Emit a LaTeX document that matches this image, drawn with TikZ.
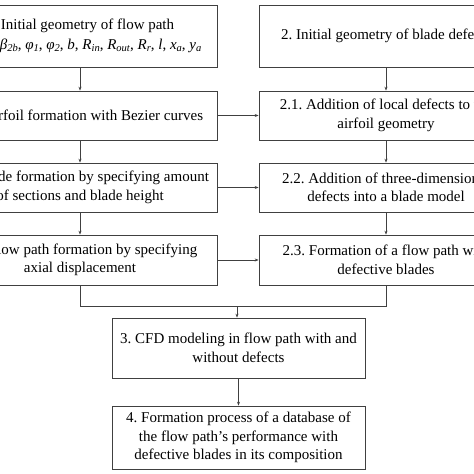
\documentclass[tikz,border=0pt]{standalone}
\usepackage{fontspec}
\setmainfont{Liberation Serif}
\usetikzlibrary{arrows.meta}

\newcommand{\pvar}[2]{\textit{#1}\raisebox{-2.5pt}{\fontsize{10.5}{10.5}\selectfont\textit{#2}}}

\begin{document}
\frenchspacing
\begin{tikzpicture}[x=1pt,y=-1pt,
    block/.style={draw=black!75, line width=0.7pt, align=center, inner xsep=4pt,
      font=\fontsize{15}{18.5}\selectfont},
    leftblock/.style={block, minimum width=274pt},
    rightblock/.style={block, minimum width=254pt},
    link/.style={draw=black!75, line width=0.7pt},
    arrowlink/.style={link, -{Stealth[length=4pt,width=3pt]}}]
  \useasboundingbox (0,0) rectangle (474,474);

  % flow path branch
  \node[leftblock, minimum height=62pt] (flowpath) at (80,36)
    {1. Initial geometry of flow path\\[1pt]
     \textit{Z}, \pvar{β}{1b}, \pvar{β}{2b}, \pvar{φ}{1}, \pvar{φ}{2}, \textit{b}, \pvar{R}{in}, \pvar{R}{out}, \pvar{R}{r}, \textit{l}, \pvar{x}{a}, \pvar{y}{a}};
  \node[leftblock, minimum height=49pt] (airfoil) at (80,115.5)
    {1.1. Airfoil formation with Bezier curves};
  \node[leftblock, minimum height=49pt] (blade) at (80,187.5)
    {1.2. Blade formation by specifying amount\\ of sections and blade height};
  \node[leftblock, minimum height=50pt] (axial) at (80,260)
    {1.3. Flow path formation by specifying\\ axial displacement};

  % defect branch
  \node[rightblock, minimum height=62pt] (defects) at (386,36)
    {2. Initial geometry of blade defects};
  \node[rightblock, minimum height=49pt] (local) at (386,115.5)
    {2.1. Addition of local defects to the\\ airfoil geometry};
  \node[rightblock, minimum height=49pt] (threed) at (386,187.5)
    {2.2. Addition of three-dimensional\\ defects into a blade model};
  \node[rightblock, minimum height=50pt] (defective) at (386,260)
    {2.3. Formation of a flow path with\\ defective blades};

  % common part
  \node[block, minimum width=253pt, minimum height=60pt] (cfd) at (238.5,348)
    {3. CFD modeling in flow path with and\\ without defects};
  \node[block, minimum width=253pt, minimum height=63pt] (database) at (238.5,437.5)
    {4. Formation process of a database of\\ the flow path’s performance with\\ defective blades in its composition};

  \draw[arrowlink] (flowpath) -- (airfoil);
  \draw[arrowlink] (airfoil) -- (blade);
  \draw[arrowlink] (blade) -- (axial);
  \draw[arrowlink] (defects) -- (local);
  \draw[arrowlink] (local) -- (threed);
  \draw[arrowlink] (threed) -- (defective);
  \draw[arrowlink] (airfoil) -- (local);
  \draw[arrowlink] (blade) -- (threed);
  \draw[arrowlink] (axial) -- (defective);

  \coordinate (join) at (237,306);
  \draw[link] (axial) -- (axial |- join) -- (defective |- join) -- (defective);
  \draw[arrowlink] (join) -- (join |- cfd.north);
  \draw[arrowlink] (cfd) -- (database);
\end{tikzpicture}
\end{document}
